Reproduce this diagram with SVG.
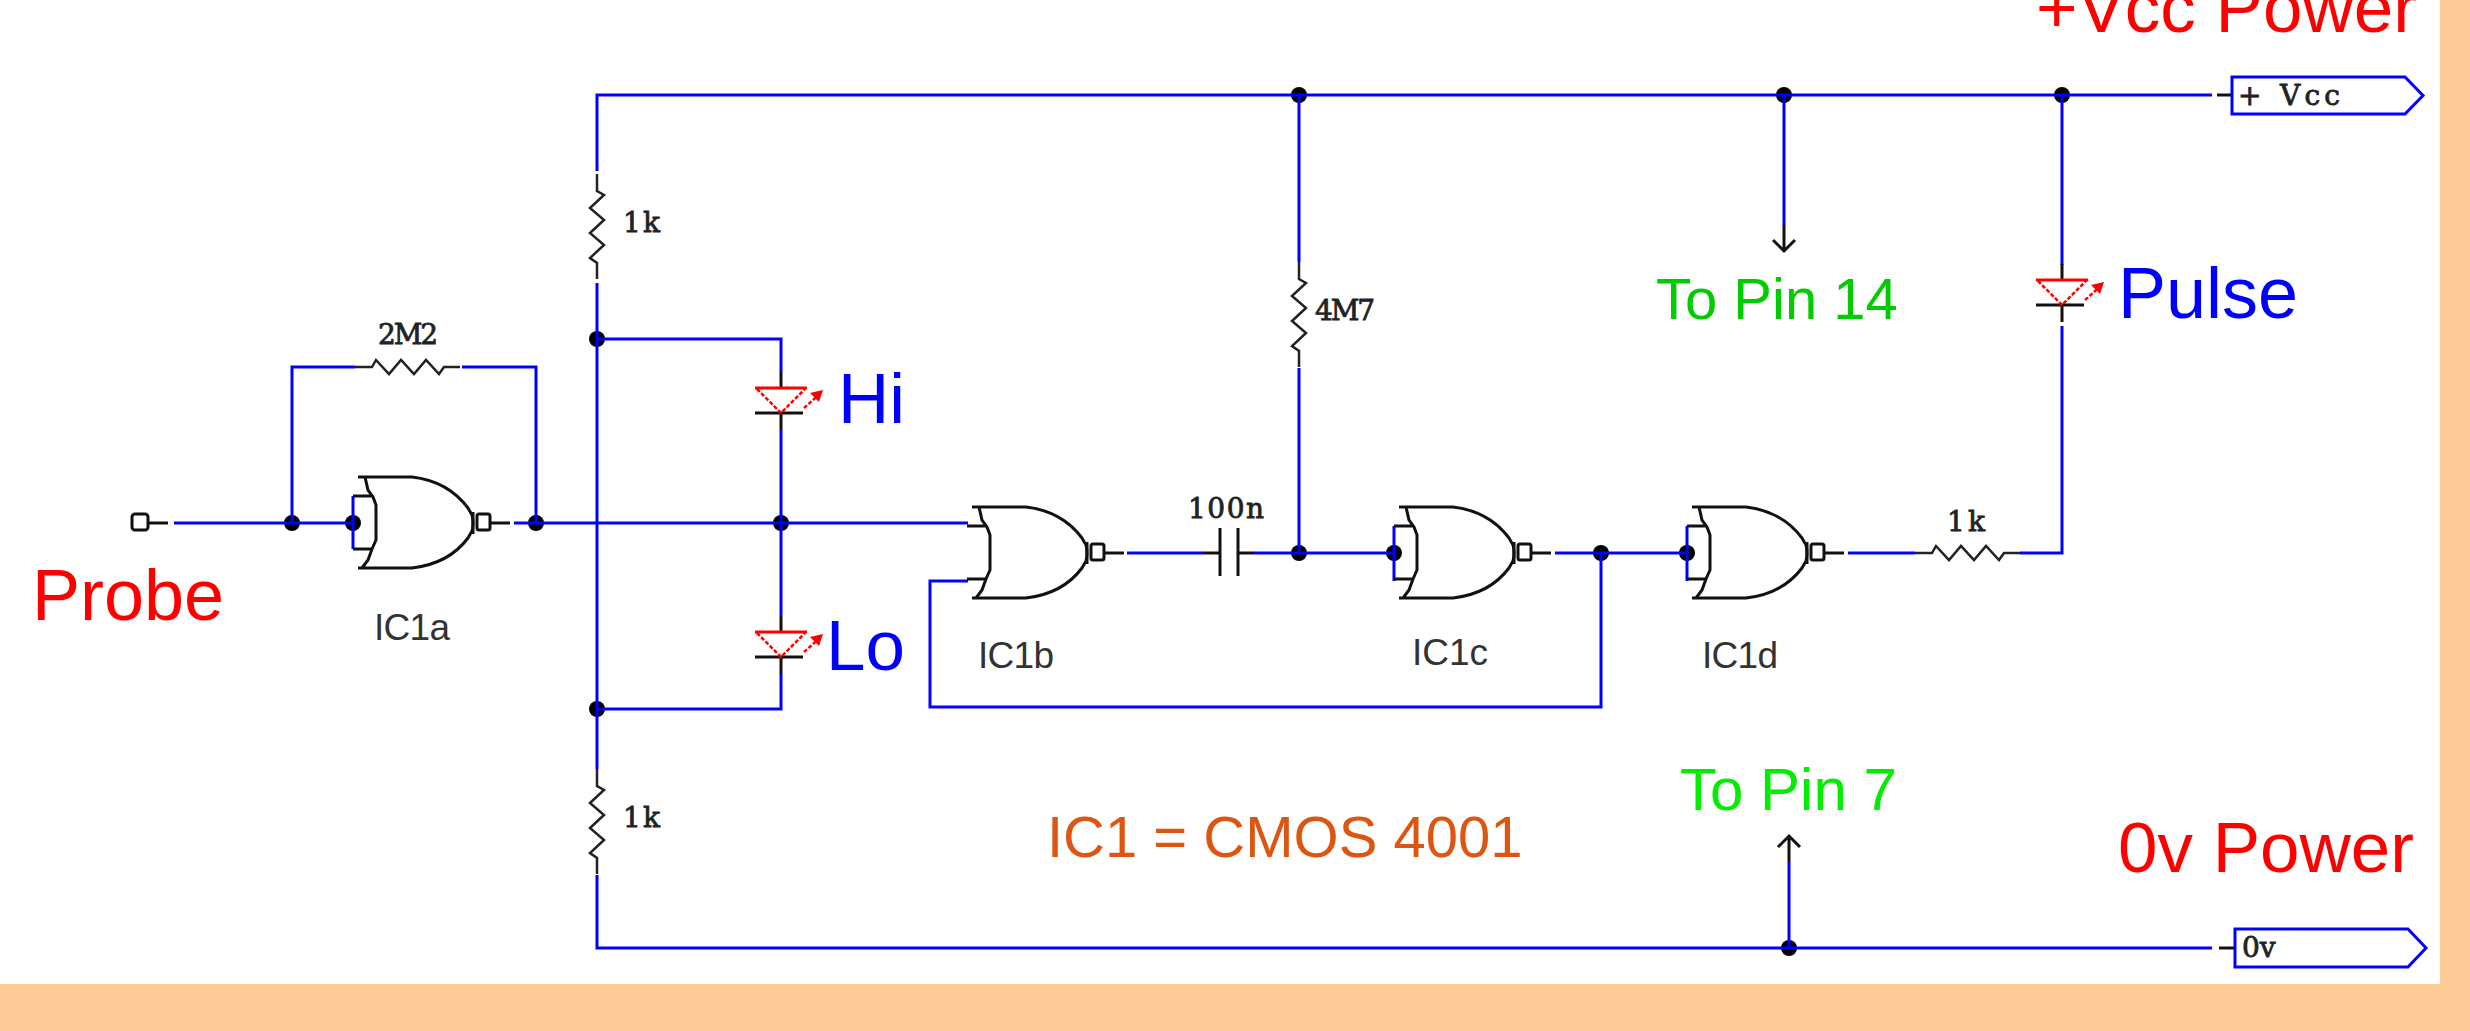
<svg xmlns="http://www.w3.org/2000/svg" width="2470" height="1031" viewBox="0 0 2470 1031">
<style>
.w{fill:none;stroke:#0000ff;stroke-width:3}
.k{fill:none;stroke:#111;stroke-width:3}
.kt{fill:none;stroke:#222;stroke-width:2.5}
.r{fill:none;stroke:#ff0000;stroke-width:3}
.rd{fill:none;stroke:#ff0000;stroke-width:2.5;stroke-dasharray:4 2}
.d{fill:#000000}
.big{font-family:"Liberation Sans",Arial,sans-serif;font-size:71px}
.mid{font-family:"Liberation Sans",Arial,sans-serif;font-size:58px}
.ic{font-family:"Liberation Sans",Arial,sans-serif;font-size:37px;fill:#333}
.val{font-family:"DejaVu Serif","Liberation Serif",serif;font-size:28px;fill:#222;stroke:#222;stroke-width:.8}
.red{fill:#ff0000}.blue{fill:#0000ff}.green{fill:#00cc00}.lime{fill:#00ee00}.brown{fill:#dd5511}
</style>
<defs>
<g id="nor">
<path class="k" d="M358 477H412C438 480 456 492 468 508L472 515Q474 523 472 531L468 538C456 554 438 565 412 568H358M365 477L368 490L373 497L376 505V540L372 549L368 560L362 568M353 496H373M353 549H373"/>
<rect class="k" x="477" y="514" width="13" height="16" rx="2"/>
<path class="k" d="M473 512V534M490 523H510"/>
</g>
<path id="rh" class="kt" d="M0 0H17L21 -7L34 7L46 -7L59 7L71 -7L84 7L89 0H105"/>
<g id="led">
<path class="k" d="M0 -41V-25M-26 0H22M0 0V17"/>
<path class="r" d="M-26 -25H26"/>
<path class="rd" d="M-24 -24L0 0L24 -24"/>
<path class="rd" d="M23 -5L41 -21"/>
<path d="M42 -23L29 -20L38 -11Z" fill="#ff0000"/>
</g>
</defs>
<rect width="2470" height="1031" fill="#ffffff"/>
<rect x="2440" width="30" height="1031" fill="#ffcc99"/>
<rect y="984" width="2470" height="47" fill="#ffcc99"/>
<g id="connectors">
<circle class="d" cx="292" cy="523" r="8"/>
<circle class="d" cx="353" cy="523" r="8"/>
<circle class="d" cx="536" cy="523" r="8"/>
<circle class="d" cx="781" cy="523" r="8"/>
<circle class="d" cx="597" cy="339" r="8"/>
<circle class="d" cx="597" cy="709" r="8"/>
<circle class="d" cx="1299" cy="95" r="8"/>
<circle class="d" cx="1784" cy="95" r="8"/>
<circle class="d" cx="2062" cy="95" r="8"/>
<circle class="d" cx="1299" cy="553" r="8"/>
<circle class="d" cx="1394" cy="553" r="8"/>
<circle class="d" cx="1601" cy="553" r="8"/>
<circle class="d" cx="1687" cy="553" r="8"/>
<circle class="d" cx="1789" cy="948" r="8"/>
<path class="w" d="M2212 95H597V171M597 283V769M597 875V948H2212"/>
<path class="w" d="M597 339H781V372M781 430V616M781 674V709H597"/>
<path class="w" d="M174 523H353M353 496V549"/>
<path class="w" d="M292 523V367H355M462 367H536V523M514 523H968"/>
<path class="w" d="M1127 553H1204M1254 553H1394M1394 526V581"/>
<path class="w" d="M1299 95V262M1299 368V553"/>
<path class="w" d="M1555 553H1687M1687 526V581M1601 553V707H930V581H968"/>
<path class="w" d="M1848 553H1915M2020 553H2062V326M2062 95V265"/>
<path class="w" d="M1784 95V225"/>
<path class="k" d="M1784 225V251M1773 240L1784 251L1795 240"/>
<path class="w" d="M1789 948V862"/>
<path class="k" d="M1789 862V836M1778 847L1789 836L1800 847"/>
</g>
<g id="probe">
<rect class="k" x="132" y="514" width="16" height="16" rx="3"/>
<path class="k" d="M148 523H168"/>
<text class="big red" x="32" y="620" style="font-size:72px">Probe</text>
</g>
<g id="IC1a"><use href="#nor"/><text class="ic" x="374" y="640" textLength="76">IC1a</text></g>
<g id="IC1b"><use href="#nor" transform="translate(614,30)"/><text class="ic" x="978" y="668" textLength="76">IC1b</text></g>
<g id="IC1c"><use href="#nor" transform="translate(1041,30)"/><text class="ic" x="1412" y="665" textLength="76">IC1c</text></g>
<g id="IC1d"><use href="#nor" transform="translate(1334,30)"/><text class="ic" x="1702" y="668" textLength="76">IC1d</text></g>
<g id="R-2M2"><use href="#rh" transform="translate(355,367)"/><text class="val" x="378" y="344" textLength="60">2M2</text></g>
<g id="R-1k-top"><use href="#rh" transform="translate(597,174) rotate(90)"/><text class="val" x="623" y="232" textLength="37">1k</text></g>
<g id="R-1k-bottom"><use href="#rh" transform="translate(597,769) rotate(90)"/><text class="val" x="623" y="827" textLength="37">1k</text></g>
<g id="R-4M7"><use href="#rh" transform="translate(1299,262) rotate(90)"/><text class="val" x="1315" y="320" textLength="60">4M7</text></g>
<g id="R-1k-out"><use href="#rh" transform="translate(1915,553)"/><text class="val" x="1947" y="531" textLength="38">1k</text></g>
<g id="C-100n">
<path class="k" d="M1204 553H1220M1220 528V576M1238 528V576M1238 553H1254"/>
<text class="val" x="1188" y="518" textLength="76">100n</text>
</g>
<g id="LED-Hi"><use href="#led" transform="translate(781,413)"/><text class="big blue" x="838" y="423">Hi</text></g>
<g id="LED-Lo"><use href="#led" transform="translate(781,657)"/><text class="big blue" x="826" y="670">Lo</text></g>
<g id="LED-Pulse"><use href="#led" transform="translate(2062,305)"/><text class="big blue" x="2118" y="318" style="font-size:72px">Pulse</text></g>
<g id="port-vcc">
<path class="k" d="M2217 95H2232"/>
<path class="w" d="M2232 77H2405L2423 95.500L2405 114H2232Z"/>
<text class="val" x="2238" y="105">+ <tspan x="2280" textLength="60">Vcc</tspan></text>
<text class="big red" x="2036" y="32">+Vcc Power</text>
</g>
<g id="port-0v">
<path class="k" d="M2219 948H2235"/>
<path class="w" d="M2235 929H2408L2426 948L2408 967H2235Z"/>
<text class="val" x="2242" y="957">0v</text>
<text class="big red" x="2118" y="872">0v Power</text>
</g>
<g id="notes">
<text class="mid green" x="1656" y="319">To Pin 14</text>
<text class="mid lime" x="1680" y="810" style="font-size:60px">To Pin 7</text>
<text class="mid brown" x="1047" y="857">IC1 = CMOS 4001</text>
</g>
</svg>
